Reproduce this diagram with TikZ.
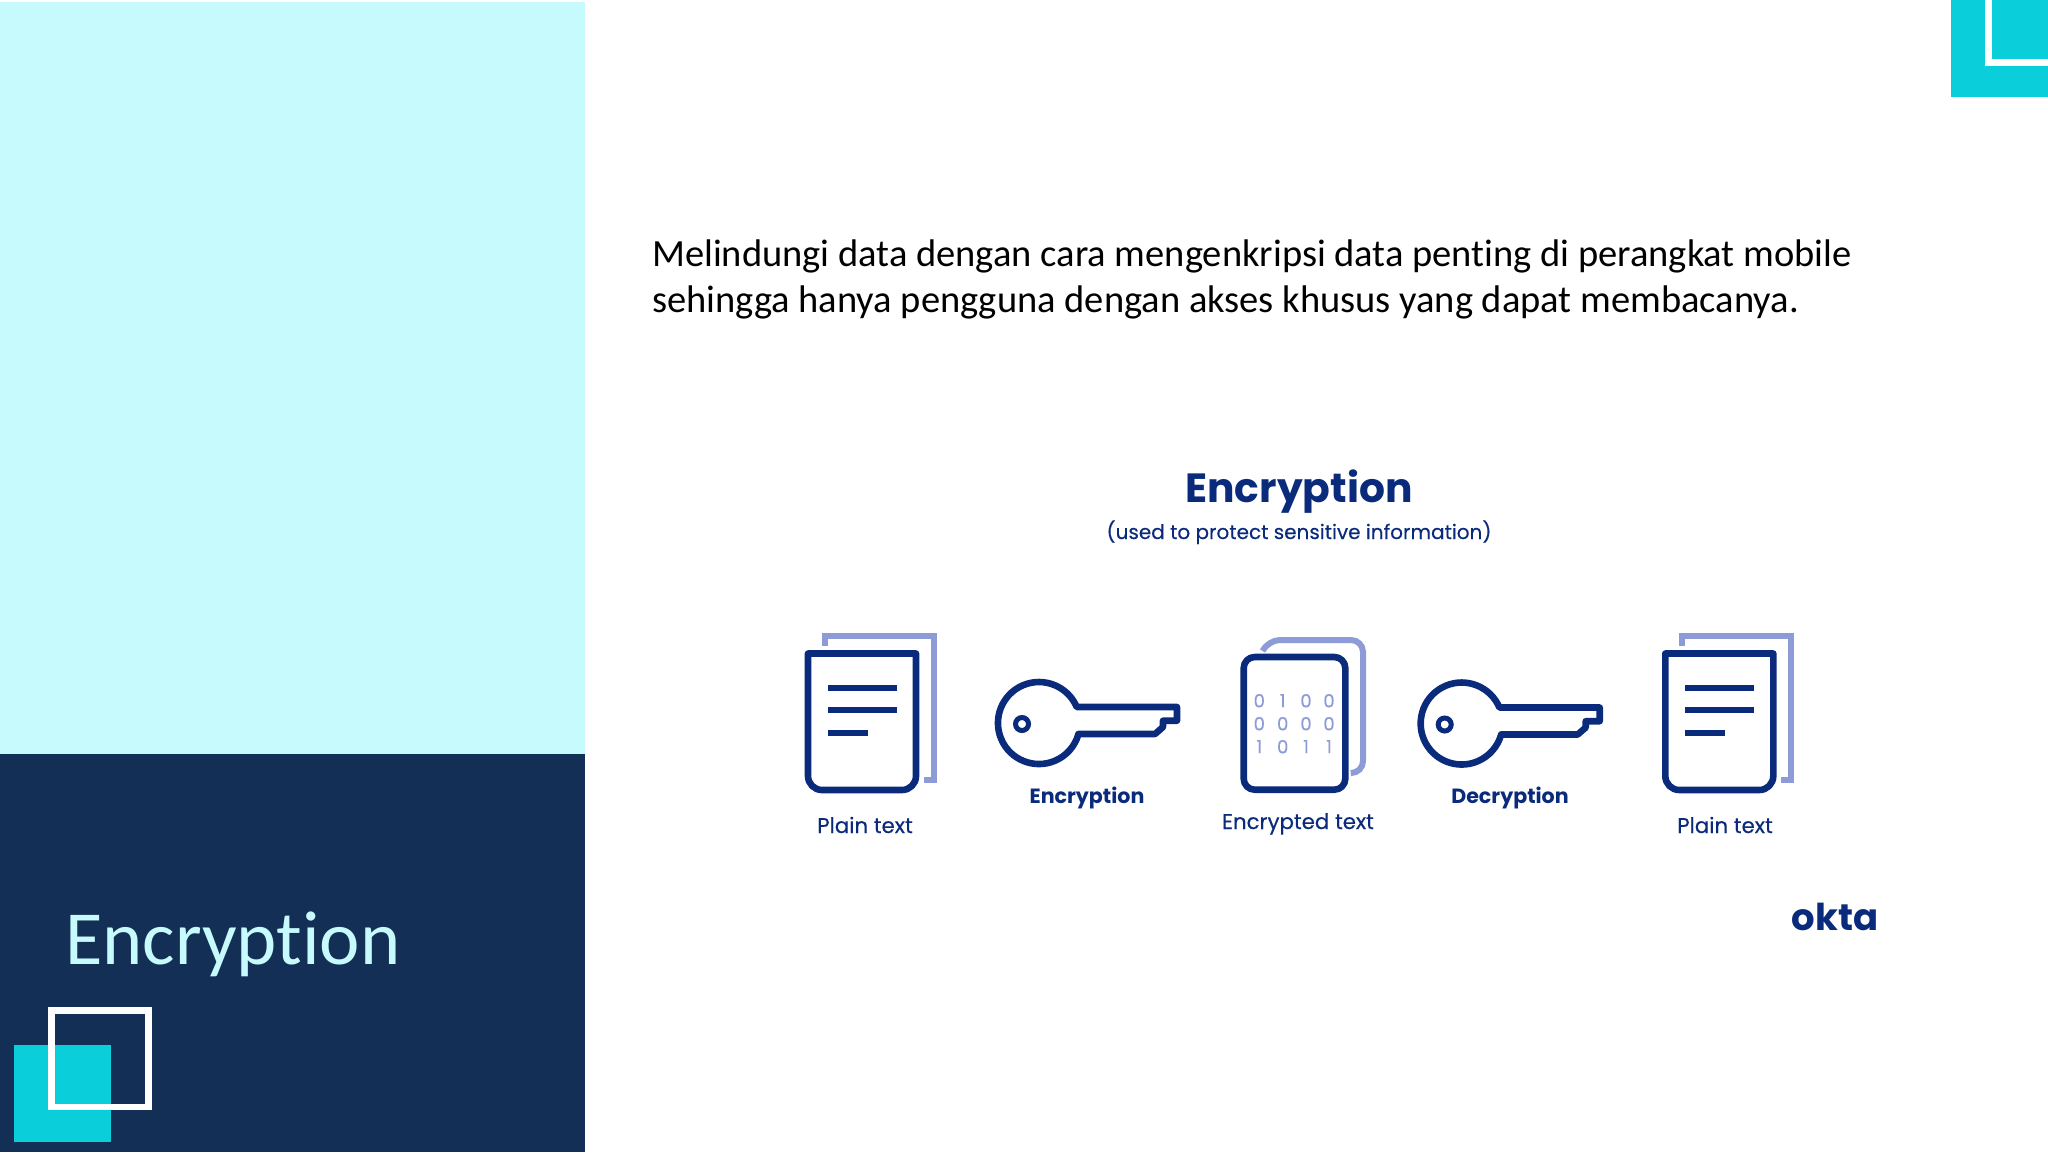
\documentclass[tikz,border=0pt]{standalone}
\usepackage{fontspec}
\setmainfont{Carlito}[Ligatures=NoCommon]
\newfontfamily\okfont{Poppins}[FakeBold=0.3]
\newfontfamily\okbd{Poppins}[Scale=1]
\definecolor{panelLight}{HTML}{C7FAFC}
\definecolor{panelDark}{HTML}{132F55}
\definecolor{teal}{HTML}{0ACFDB}
\definecolor{oktaNavy}{HTML}{0A2B7C}
\definecolor{oktaLight}{HTML}{8D9BD6}
\tikzset{
  backline/.style={draw=oktaLight,line width=6pt,line join=miter},
  frontline/.style={draw=oktaNavy,line width=6.6pt,line join=round},
  txtline/.style={draw=oktaNavy,line width=6.2pt},
  oklabel/.style={anchor=base,inner sep=0pt,text=oktaNavy,font=\okfont\fontsize{21.3}{25}\selectfont},
  okbold/.style={oklabel,font=\okbd\bfseries\fontsize{20.6}{24}\selectfont},
  digit/.style={anchor=center,inner sep=0pt,text=oktaLight,font=\okfont\fontsize{18}{20}\selectfont},
  docpic/.pic={
    \draw[backline] (825,646) -- (825,635.5) -- (934,635.5) -- (934,780) -- (924,780);
    \draw[frontline,rounded corners=0pt] (808,653.5) -- (916,653.5) -- (916,776) [rounded corners=14pt] -- (916,790) -- (808,790) [rounded corners=0pt] -- (808,653.5) -- cycle;
    \draw[txtline] (828,688) -- (897,688);
    \draw[txtline] (828,710) -- (897,710);
    \draw[txtline] (828,733) -- (868,733);
  },
  keypic/.pic={
    \draw[frontline] (1076.7,707) arc (-23:-344.5:41) -- (1155,734) -- (1163,727) -- (1163,720.7) -- (1177,720.7) -- (1177,707) -- cycle;
    \draw[draw=oktaNavy,line width=5pt] (1022,724) circle (6.5);
  }
}
\begin{document}
\begin{tikzpicture}[x=1pt,y=1pt,yscale=-1]
\useasboundingbox (0,0) rectangle (2048,1152);
\fill[white] (0,0) rectangle (2048,1152);
% left panels
\fill[panelLight] (0,2) rectangle (585,753.5);
\fill[panelDark] (0,753.5) rectangle (585,1152);
\fill[teal] (13.5,1044.5) rectangle (110.5,1142);
\draw[white,line width=6.5pt] (51.5,1010.5) rectangle (148.5,1107);
% top right ornament
\fill[teal] (1951,0) rectangle (2048,97);
\draw[white,line width=6.5pt] (1988.5,-10) -- (1988.5,62.5) -- (2060,62.5);
\node[anchor=base west,inner sep=0pt,text=panelLight,font=\fontsize{76.5}{84}\selectfont] (heading) at (65,964) {Encryption};
\node[anchor=north west,inner sep=0pt,align=left,text=black,font=\fontsize{38.5}{46}\selectfont] (body) at (652,240) {Melindungi data dengan cara mengenkripsi data penting di perangkat mobile\\sehingga hanya pengguna dengan akses khusus yang dapat membacanya.};
% diagram headings
\node[oklabel,font=\okbd\bfseries\fontsize{40.8}{46}\selectfont] (title) at (1299,502) {Encryption};
\node[oklabel,font=\okfont\fontsize{20}{24}\selectfont] (subtitle) at (1299,539) {(used to protect sensitive information)};
% icons
\pic[transform shape] at (0,0) {docpic};
\pic[transform shape] at (0,0) {keypic};
\pic[transform shape] at (422.7,0.5) {keypic};
\pic[transform shape] at (857.3,0) {docpic};
% encrypted document
\draw[backline,rounded corners=12pt] (1263,650) -- (1268,640) -- (1363,640) -- (1363,773) -- (1352,773);
\draw[frontline,rounded corners=11pt] (1243.7,657) rectangle (1345.3,789.7);
\foreach \n/\d/\px/\py in {a/0/1259.3/700.7,b/1/1282.7/700.7,c/0/1306/700.7,d/0/1329/700.7,
                           e/0/1259.3/723.7,f/0/1282.7/723.7,g/0/1306/723.7,h/0/1329/723.7,
                           i/1/1259.3/746.7,j/0/1282.7/746.7,k/1/1306/746.7,l/1/1329/746.7}
  \node[digit] (bit\n) at (\px,\py) {\d};
% labels
\node[oklabel] (plainA) at (865,833) {Plain text};
\node[okbold] (encLabel) at (1087,803) {Encryption};
\node[oklabel] (encText) at (1298,829) {Encrypted text};
\node[okbold] (decLabel) at (1510,803) {Decryption};
\node[oklabel] (plainB) at (1725,833) {Plain text};
\node[oklabel,font=\okbd\bfseries\fontsize{37}{40}\selectfont] (okta) at (1835,930) {okta};
\end{tikzpicture}
\end{document}
